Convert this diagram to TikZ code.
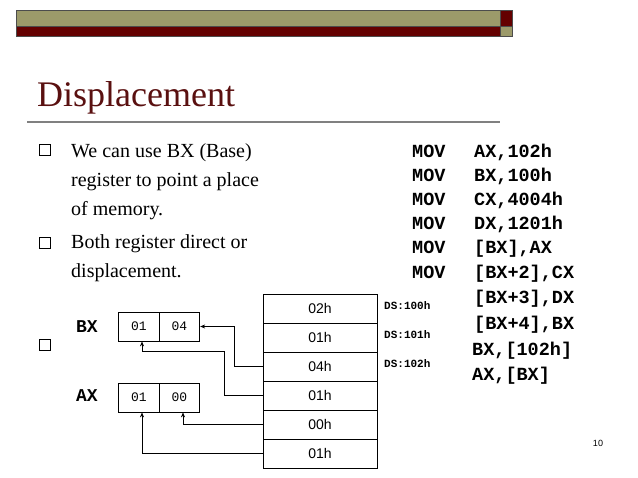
\documentclass[tikz,border=0pt]{standalone}
\usepackage{fontspec}
\setmainfont{Liberation Serif}
\newfontfamily\monof{Liberation Mono}
\newfontfamily\sansf{Liberation Sans}
\usetikzlibrary{arrows.meta}
\definecolor{olive}{HTML}{9C9A6A}
\definecolor{dred}{HTML}{640000}
\definecolor{tred}{HTML}{5A1010}
\tikzset{x=1pt,y=-1pt,
 bul/.style={draw,thick,minimum size=11pt,inner sep=0},
 btxt/.style={anchor=base west,inner sep=0,font=\fontsize{20}{20}\selectfont},
 code/.style={anchor=base west,inner sep=0,font=\monof\bfseries\fontsize{18.5}{18.5}\selectfont},
 mem/.style={draw,thick,minimum width=114pt,minimum height=29pt,inner sep=0,font=\sansf\fontsize{14}{14}\selectfont},
 reg/.style={draw,thick,minimum width=40.5pt,minimum height=29pt,inner sep=0,font=\monof\fontsize{13}{13}\selectfont},
 ds/.style={anchor=west,inner sep=0,font=\monof\bfseries\fontsize{11}{11}\selectfont},
 arr/.style={thick,-{Stealth[length=5pt,width=4pt]}}}
\begin{document}
\begin{tikzpicture}
\useasboundingbox (0,0) rectangle (638,478);
\fill[white] (0,0) rectangle (638,478);
\filldraw[fill=olive,draw=black!70] (16,10) rectangle (500,26);
\filldraw[fill=dred,draw=black!70] (16,26) rectangle (500,36);
\filldraw[fill=dred,draw=black!70] (500,10) rectangle (512,26);
\filldraw[fill=olive,draw=black!70] (500,26) rectangle (512,36);
\node[anchor=base west,inner sep=0,text=tred,font=\fontsize{36}{36}\selectfont] (title) at (37,107) {Displacement};
\draw[gray,line width=1.2pt] (27,122) -- (500,122);
\node[bul] (b1) at (45,150) {};
\node[bul] (b2) at (45,243) {};
\node[bul] (b3) at (45,345) {};
\node[btxt] (t1) at (71,158) {We can use BX (Base)};
\node[btxt] (t2) at (71,187) {register to point a place};
\node[btxt] (t3) at (71,216) {of memory.};
\node[btxt] (t4) at (71,249) {Both register direct or};
\node[btxt] (t5) at (71,278) {displacement.};
\foreach \y/\a [count=\i] in {158/{AX,102h},182/{BX,100h},206/{CX,4004h},230/{DX,1201h},254/{[BX],AX},279/{[BX+2],CX}}{
 \node[code] (m\i) at (412,\y) {MOV};
 \node[code] (a\i) at (474,\y) {\a};}
\node[code] (a7) at (474,304) {[BX+3],DX};
\node[code] (a8) at (474,330) {[BX+4],BX};
\node[code] (a9) at (472,356) {BX,[102h]};
\node[code] (a10) at (472,381) {AX,[BX]};
\foreach \t [count=\i] in {02h,01h,04h,01h,00h,01h}
 \node[mem] (c\i) at (320,{279.5+29*\i}) {\t};
\node[ds] (d1) at (384,306) {DS:100h};
\node[ds] (d2) at (384,335) {DS:101h};
\node[ds] (d3) at (384,364) {DS:102h};
\node[anchor=base,inner sep=0,font=\monof\bfseries\fontsize{18}{18}\selectfont] (bx) at (87,333) {BX};
\node[anchor=base,inner sep=0,font=\monof\bfseries\fontsize{18}{18}\selectfont] (ax) at (87,402) {AX};
\node[reg] (bh) at (139,326.5) {01};
\node[reg] (bl) at (179.5,326.5) {04};
\node[reg] (ah) at (139,397.5) {01};
\node[reg] (al) at (179.5,397.5) {00};
\draw[arr] (c3.west) -| (234,0 |- bl.east) -- (bl.east);
\draw[arr] (c4.west) -- (224,0 |- c4.west) |- (142,351) -- (142,0 |- bh.south);
\draw[arr] (c5.west) -| (183,0 |- al.south);
\draw[arr] (c6.west) -| (142,0 |- ah.south);
\node[inner sep=0,font=\sansf\fontsize{9}{9}\selectfont] (pg) at (598,443) {10};
\end{tikzpicture}
\end{document}
